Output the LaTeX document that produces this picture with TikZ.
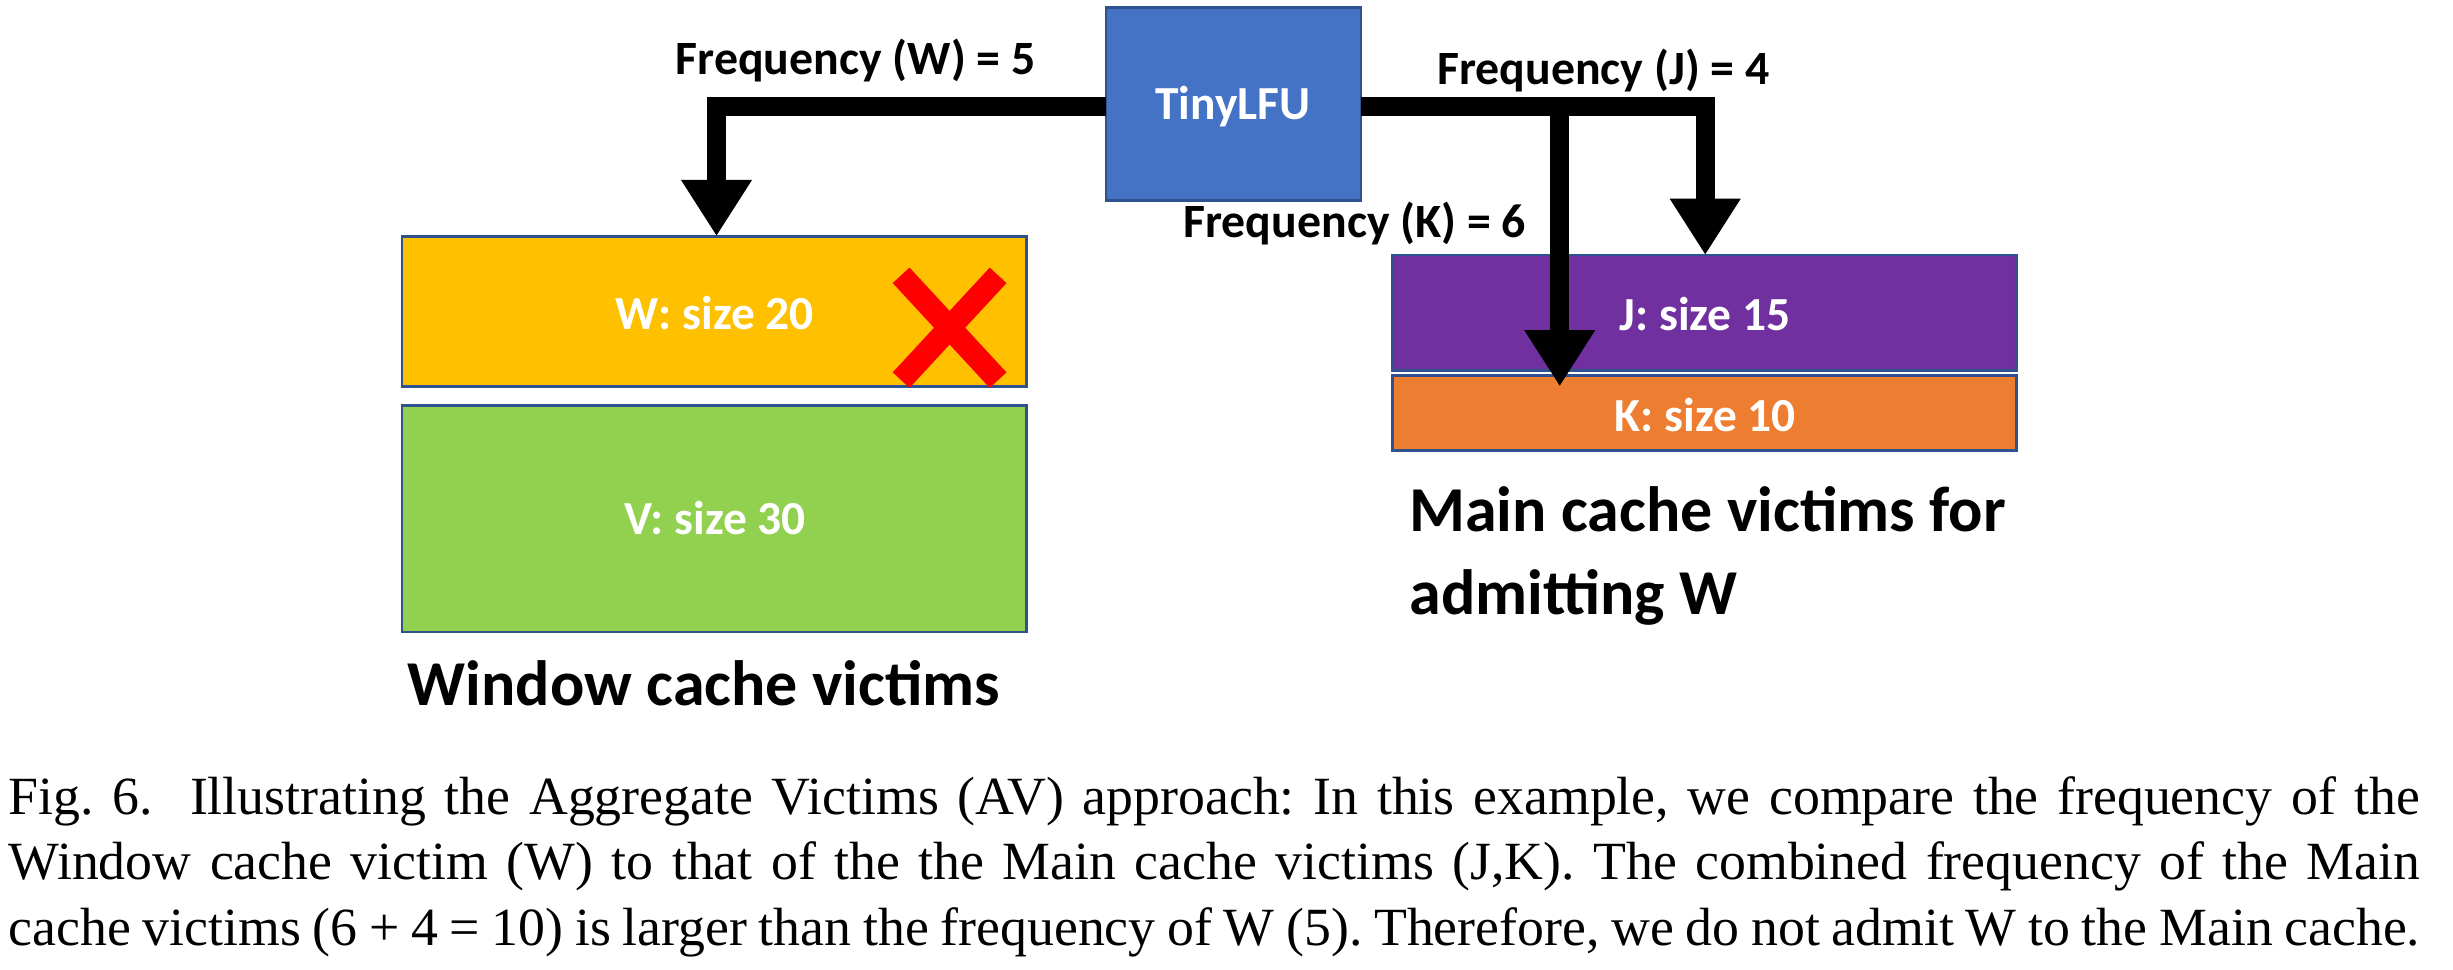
\documentclass[tikz,border=0pt]{standalone}
\usepackage{fontspec}
\setmainfont{Liberation Serif}
\newfontfamily\carl{Carlito}
\usetikzlibrary{arrows.meta}
\begin{document}
\frenchspacing
\begin{tikzpicture}[x=0.015644cm,y=-0.015644cm,
  bx/.style={draw={rgb,255:red,47;green,82;blue,143},line width=0.8pt},
  lbl/.style={font=\carl\bfseries\fontsize{13.6}{15}\selectfont},
  inb/.style={font=\carl\bfseries\fontsize{13.5}{15}\selectfont,text=white},
  big/.style={font=\carl\bfseries\fontsize{18.2}{23.5}\selectfont,align=left},
  arr/.style={line width=5.3pt,-{Triangle[width=19pt,length=16pt]}},
  captxt/.style={anchor=west,inner sep=0,font=\fontsize{15.3}{18}\selectfont}]
\useasboundingbox (0,0) rectangle (1568,620);
\path[bx,fill={rgb,255:red,68;green,114;blue,196}] (707,5) rectangle (870,128);
\node[inb] (tl) at (788,68) {TinyLFU};
\coordinate (tw) at (707,68); \coordinate (te) at (870,68);
\path[bx,fill={rgb,255:red,255;green,192;blue,0}] (257,151) rectangle (656,247);
\node[inb] (w) at (457,200) {W: size 20};
\path[bx,fill={rgb,255:red,146;green,208;blue,80}] (257,259) rectangle (656,404);
\node[inb] (v) at (457,331) {V: size 30};
\path[bx,fill={rgb,255:red,112;green,48;blue,160}] (890,163) rectangle (1289,237);
\node[inb] (j) at (1090,201) {J: size 15};
\path[bx,fill={rgb,255:red,237;green,125;blue,49}] (890,240) rectangle (1289,288);
\node[inb] (k) at (1090,265) {K: size 10};
\draw[red,line width=6.5pt] (576,176) -- (638,243) (576,243) -- (638,176);
\coordinate (wa) at (458,151); \coordinate (ja) at (1090,163); \coordinate (ka) at (997,247);
\draw[arr,line join=miter] (tw) -| (wa);
\draw[arr,line join=miter] (te) -| (ja);
\draw[line width=5.3pt] (997,68) -- (997,100);
\draw[arr] (997,96) -- (ka);
\node[lbl] (fw) at (547,39) {Frequency (W) = 5};
\node[lbl] (fj) at (1025,45) {Frequency (J) = 4};
\node[lbl] (fk) at (866,143) {Frequency (K) = 6};
\node[big,anchor=north west] (mc) at (893,303) {Main cache victims for\\admitting W};
\node[big] (wc) at (450,437) {Window cache victims};
\node[captxt] (c1) at (5,512) {\makebox[686pt][s]{Fig. 6.\ \ Illustrating the Aggregate Victims (AV) approach: In this example, we compare the frequency of the}};
\node[captxt] (c2) at (5,554) {\makebox[686pt][s]{Window cache victim (W) to that of the the Main cache victims (J,K). The combined frequency of the Main}};
\node[captxt] (c3) at (5,596) {\makebox[686pt][s]{cache victims (6 + 4 = 10) is larger than the frequency of W (5). Therefore, we do not admit W to the Main cache.}};
\end{tikzpicture}
\end{document}
